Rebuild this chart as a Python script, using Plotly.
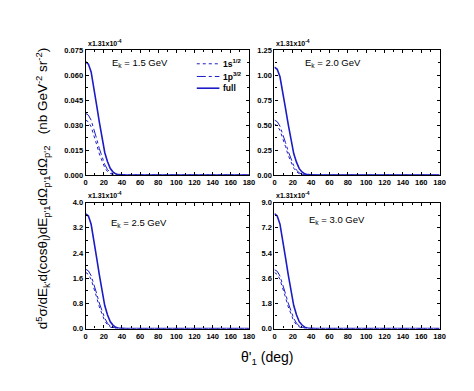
import plotly.graph_objects as go
from plotly.subplots import make_subplots

theta = [0, 3, 6, 9, 12, 15, 18, 21, 24, 27, 30, 33, 36, 40, 45, 60, 90, 120, 150, 180]

energies = ["1.5", "2.0", "2.5", "3.0"]

full_15 = [0.0680, 0.0666, 0.0619, 0.0530, 0.0422, 0.0320, 0.0218, 0.0136, 0.0082, 0.0041, 0.0020, 0.0008, 0.0003, 0.0001, 0, 0, 0, 0, 0, 0]
p32_15 = [0.0370, 0.0360, 0.0330, 0.0280, 0.0220, 0.0160, 0.0108, 0.0064, 0.0034, 0.0016, 0.0007, 0.0002, 0.0001, 0, 0, 0, 0, 0, 0, 0]
s12_15 = [0.0330, 0.0320, 0.0290, 0.0242, 0.0185, 0.0128, 0.0080, 0.0045, 0.0022, 0.0010, 0.0004, 0.0001, 0, 0, 0, 0, 0, 0, 0, 0]

full_20 = [1.080, 1.058, 0.983, 0.842, 0.670, 0.508, 0.346, 0.216, 0.130, 0.065, 0.032, 0.013, 0.005, 0.001, 0, 0, 0, 0, 0, 0]
p32_20 = [0.550, 0.535, 0.490, 0.416, 0.327, 0.238, 0.160, 0.095, 0.050, 0.024, 0.010, 0.003, 0.001, 0, 0, 0, 0, 0, 0, 0]
s12_20 = [0.510, 0.494, 0.448, 0.374, 0.286, 0.198, 0.124, 0.070, 0.034, 0.015, 0.006, 0.002, 0, 0, 0, 0, 0, 0, 0, 0]

full_25 = [3.64, 3.57, 3.31, 2.84, 2.26, 1.71, 1.16, 0.73, 0.44, 0.22, 0.11, 0.04, 0.015, 0.004, 0, 0, 0, 0, 0, 0]
p32_25 = [1.88, 1.83, 1.68, 1.42, 1.12, 0.81, 0.55, 0.33, 0.17, 0.08, 0.035, 0.01, 0.004, 0, 0, 0, 0, 0, 0, 0]
s12_25 = [1.78, 1.72, 1.56, 1.31, 1.00, 0.69, 0.43, 0.24, 0.12, 0.05, 0.02, 0.006, 0.001, 0, 0, 0, 0, 0, 0, 0]

full_30 = [8.20, 8.04, 7.46, 6.40, 5.08, 3.85, 2.62, 1.64, 0.98, 0.49, 0.25, 0.10, 0.04, 0.01, 0, 0, 0, 0, 0, 0]
p32_30 = [4.20, 4.09, 3.75, 3.18, 2.50, 1.82, 1.23, 0.73, 0.39, 0.18, 0.08, 0.02, 0.008, 0, 0, 0, 0, 0, 0, 0]
s12_30 = [4.00, 3.87, 3.51, 2.94, 2.24, 1.55, 0.97, 0.54, 0.27, 0.12, 0.05, 0.015, 0.003, 0, 0, 0, 0, 0, 0, 0]

legend_names = ["1s<sup>1/2</sup>", "1p<sup>3/2</sup>", "full"]

y_ranges = [[0, 0.075], [0, 1.25], [0, 4.0], [0, 9.0]]
y_dticks = [0.015, 0.25, 0.8, 1.8]
y_formats = [".3f", ".2f", ".1f", ".1f"]

panels = [
    (s12_15, p32_15, full_15),
    (s12_20, p32_20, full_20),
    (s12_25, p32_25, full_25),
    (s12_30, p32_30, full_30),
]

W, H = 474, 391
COL = "#1c1cc4"
FONT = "Liberation Sans, Arial, sans-serif"
styles = [dict(color=COL, width=1, dash="dot"),
          dict(color=COL, width=1, dash="dashdot"),
          dict(color=COL, width=1.6)]

fig = make_subplots(rows=2, cols=2)

xdom = [[77 / W, 243 / W], [269 / W, 437 / W]]
ydom = [[1 - 167 / H, 1 - 39 / H], [1 - 324 / H, 1 - 195 / H]]
label_pos = [(0.15, 0.90), (0.17, 0.90), (0.14, 0.84), (0.20, 0.86)]

for i, series in enumerate(panels):
    r, c = i // 2 + 1, i % 2 + 1
    for k, yv in enumerate(series):
        fig.add_trace(go.Scatter(x=theta, y=yv, mode="lines", name=legend_names[k],
                                 line=styles[k], showlegend=False), row=r, col=c)

    fig.update_xaxes(domain=xdom[c - 1], range=[0, 180], dtick=20, tick0=0,
                     ticks="inside", ticklen=3, tickwidth=1, tickcolor="black",
                     minor=dict(ticks="inside", ticklen=2, dtick=10, tickcolor="black"),
                     showline=True, linecolor="black", linewidth=1.2, mirror="allticks",
                     showgrid=False, zeroline=False,
                     tickfont=dict(family=FONT, size=7.5, color="black", weight="bold"),
                     row=r, col=c)
    fig.update_yaxes(domain=ydom[r - 1], range=y_ranges[i], dtick=y_dticks[i], tick0=0,
                     tickformat=y_formats[i],
                     ticks="inside", ticklen=3, tickwidth=1, tickcolor="black",
                     minor=dict(ticks="inside", ticklen=2, dtick=y_dticks[i] / 2, tickcolor="black"),
                     showline=True, linecolor="black", linewidth=1.2, mirror="allticks",
                     showgrid=False, zeroline=False,
                     tickfont=dict(family=FONT, size=7.5, color="black", weight="bold"),
                     row=r, col=c)

    xa = "x" if i == 0 else f"x{i + 1}"
    ya = "y" if i == 0 else f"y{i + 1}"
    lx, ly = label_pos[i]
    fig.add_annotation(text=f"E<sub>k</sub> = {energies[i]} GeV", xref=f"{xa} domain", yref=f"{ya} domain",
                       x=lx, y=ly, xanchor="left", yanchor="middle", showarrow=False,
                       font=dict(family=FONT, size=9.5, color="black"))
    fig.add_annotation(text="<b>x1.31x10<sup>-4</sup></b>", xref=f"{xa} domain", yref=f"{ya} domain",
                       x=0.0, y=1.01, xanchor="left", yanchor="bottom", showarrow=False,
                       font=dict(family=FONT, size=7, color="black"))

# legend drawn in first panel (paper coordinates)
leg_y = [53, 66, 78]
for k in range(3):
    yy = 1 - leg_y[k] / H
    fig.add_shape(type="line", xref="paper", yref="paper", x0=190 / W, x1=213 / W, y0=yy, y1=yy,
                  line=styles[k])
    fig.add_annotation(text=f"<b>{legend_names[k]}</b>", xref="paper", yref="paper",
                       x=215 / W, y=yy, xanchor="left", yanchor="middle", showarrow=False,
                       font=dict(family=FONT, size=8.5, color="black"))

fig.add_annotation(text="θ'<sub>1</sub> (deg)", xref="paper", yref="paper",
                   x=262 / W, y=1 - 354 / H, xanchor="center", yanchor="middle", showarrow=False,
                   font=dict(family=FONT, size=14, color="black"))
fig.add_annotation(text="d<sup>5</sup>σ/dE<sub>k'</sub>d(cosθ<sub>l</sub>)dE<sub>p'1</sub>dΩ<sub>p'1</sub>dΩ<sub>p'2</sub>   (nb GeV<sup>-2</sup> sr<sup>-2</sup>)",
                   xref="paper", yref="paper", x=33 / W, y=1 - 180 / H, xanchor="center", yanchor="middle",
                   textangle=-90, showarrow=False,
                   font=dict(family=FONT, size=13.5, color="black"))

fig.update_layout(
    width=W, height=H,
    margin=dict(l=0, r=0, t=0, b=0),
    paper_bgcolor="white", plot_bgcolor="white",
    showlegend=False,
)

fig.write_html("out.html")
